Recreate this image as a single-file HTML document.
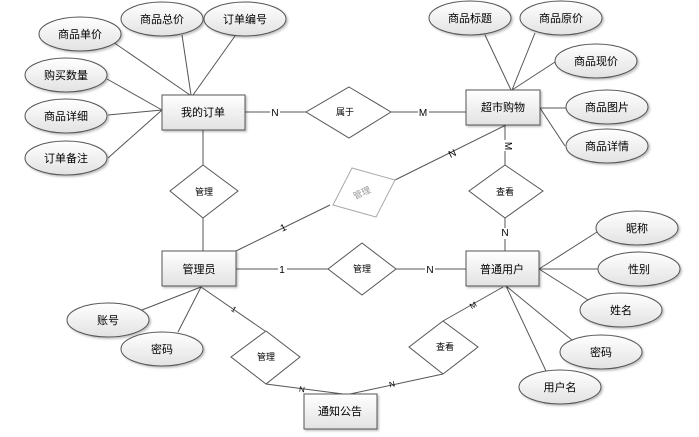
<!DOCTYPE html>
<html><head><meta charset="utf-8"><style>
html,body{margin:0;padding:0;background:#fff;}
svg{display:block;font-family:"Liberation Sans","Noto Sans CJK SC",sans-serif;}
</style></head><body>
<svg width="699" height="437" viewBox="0 0 699 437" xmlns="http://www.w3.org/2000/svg">
<defs>
<linearGradient id="g" x1="0" y1="0" x2="0" y2="1"><stop offset="0" stop-color="#ffffff"/><stop offset="1" stop-color="#e2e2e2"/></linearGradient>
<filter id="s" x="-20%" y="-20%" width="150%" height="150%"><feDropShadow dx="1.5" dy="1.5" stdDeviation="1" flood-color="#000" flood-opacity="0.25"/></filter>
</defs>
<g stroke="#555" stroke-width="1" fill="none">
<line x1="113" y1="42" x2="190" y2="95"/>
<line x1="182" y1="35" x2="191" y2="95"/>
<line x1="235" y1="36" x2="193" y2="95"/>
<line x1="107" y1="79" x2="162" y2="110"/>
<line x1="108" y1="115" x2="162" y2="110"/>
<line x1="108" y1="158" x2="162" y2="110"/>
<line x1="245" y1="112" x2="306" y2="112"/>
<line x1="391" y1="112" x2="466" y2="112"/>
<line x1="203" y1="130" x2="203" y2="165"/>
<line x1="203" y1="218" x2="203" y2="251"/>
<line x1="485" y1="35" x2="511" y2="90"/>
<line x1="535" y1="33" x2="512" y2="90"/>
<line x1="555" y1="62" x2="512" y2="90"/>
<line x1="540" y1="108" x2="566" y2="108"/>
<line x1="540" y1="108" x2="565" y2="146"/>
<line x1="505" y1="125" x2="505" y2="165"/>
<line x1="505" y1="218" x2="505" y2="251"/>
<line x1="506" y1="125" x2="395" y2="180"/>
<line x1="330" y1="205" x2="236" y2="251"/>
<line x1="236" y1="269" x2="328" y2="269"/>
<line x1="396" y1="269" x2="466" y2="269"/>
<line x1="539" y1="269" x2="597" y2="232"/>
<line x1="539" y1="269" x2="599" y2="269"/>
<line x1="539" y1="269" x2="588" y2="300"/>
<line x1="506" y1="286" x2="572" y2="340"/>
<line x1="506" y1="286" x2="546" y2="371"/>
<line x1="503" y1="287" x2="443" y2="321"/>
<line x1="443" y1="374" x2="350" y2="394"/>
<line x1="201" y1="287" x2="142" y2="310"/>
<line x1="201" y1="287" x2="178" y2="332"/>
<line x1="201" y1="287" x2="265" y2="331"/>
<line x1="266" y1="384" x2="343" y2="394"/>
</g>
<g fill="url(#g)" stroke="#555" filter="url(#s)">
<ellipse cx="80" cy="34" rx="41" ry="17"/>
<ellipse cx="162" cy="19" rx="41" ry="17"/>
<ellipse cx="245" cy="19" rx="41" ry="17"/>
<ellipse cx="66" cy="75" rx="41" ry="17"/>
<ellipse cx="66" cy="116" rx="41" ry="17"/>
<ellipse cx="66" cy="158" rx="41" ry="17"/>
<ellipse cx="470" cy="18" rx="41" ry="17"/>
<ellipse cx="561" cy="18" rx="41" ry="17"/>
<ellipse cx="596" cy="61" rx="41" ry="17"/>
<ellipse cx="607" cy="107" rx="41" ry="17"/>
<ellipse cx="607" cy="146" rx="41" ry="17"/>
<ellipse cx="637" cy="228" rx="41" ry="17"/>
<ellipse cx="639" cy="269" rx="41" ry="17"/>
<ellipse cx="621" cy="310" rx="41" ry="17"/>
<ellipse cx="601" cy="352" rx="41" ry="17"/>
<ellipse cx="560" cy="387" rx="41" ry="17"/>
<ellipse cx="108" cy="320" rx="41" ry="17"/>
<ellipse cx="162" cy="349" rx="41" ry="17"/>
<rect x="162" y="95" width="83" height="35"/>
<rect x="466" y="90" width="74" height="35"/>
<rect x="162" y="251" width="74" height="35"/>
<rect x="466" y="251" width="73" height="35"/>
<rect x="304" y="394" width="73" height="35"/>
</g>
<g fill="#fff" stroke="#555">
<polygon points="349,87 391,112 349,138 306,112"/>
<polygon points="203,165 238,191 203,218 170,191"/>
<polygon points="505,165 543,191 505,218 469,191"/>
<polygon points="362,243 396,269 362,295 328,269"/>
<polygon points="443,321 478,347 443,374 409,347"/>
<polygon points="266,331 300,357 266,384 231,357"/>
<polygon points="333,183 394,178 395,182 393,185" stroke="none"/>
</g>
<polygon points="333,205 352,168 395,180 376,217" fill="#fff" stroke="#aaa"/>
<g font-size="11" fill="#000" text-anchor="middle">
<text x="80" y="38">商品单价</text>
<text x="162" y="23">商品总价</text>
<text x="245" y="23">订单编号</text>
<text x="66" y="79">购买数量</text>
<text x="66" y="120">商品详细</text>
<text x="66" y="162">订单备注</text>
<text x="470" y="22">商品标题</text>
<text x="561" y="22">商品原价</text>
<text x="596" y="65">商品现价</text>
<text x="607" y="111">商品图片</text>
<text x="607" y="150">商品详情</text>
<text x="637" y="232">昵称</text>
<text x="639" y="273">性别</text>
<text x="621" y="314">姓名</text>
<text x="601" y="356">密码</text>
<text x="560" y="391">用户名</text>
<text x="108" y="324">账号</text>
<text x="162" y="353">密码</text>
<text x="203" y="116">我的订单</text>
<text x="503" y="111">超市购物</text>
<text x="199" y="273">管理员</text>
<text x="502" y="273">普通用户</text>
<text x="340" y="415">通知公告</text>
</g>
<g font-size="9" fill="#000" text-anchor="middle">
<text x="345" y="115">属于</text>
<text x="204" y="195">管理</text>
<text x="505" y="195">查看</text>
<text x="362" y="272">管理</text>
<text x="445" y="350">查看</text>
<text x="266" y="360">管理</text>
<text x="362" y="196" fill="#999" transform="rotate(-25 362 193)">管理</text>
</g>
<g font-size="10" fill="#000" text-anchor="middle">
<text x="275" y="116" fill="#fff" stroke="none"> </text>
<rect x="270" y="106" width="10" height="11" fill="#fff"/><text x="275" y="116">N</text>
<rect x="418" y="106" width="11" height="11" fill="#fff"/><text x="423" y="116">M</text>
<rect x="500" y="140" width="10" height="11" fill="#fff"/><text x="505" y="146" transform="rotate(90 505 146)">M</text>
<rect x="500" y="228" width="10" height="11" fill="#fff"/><text x="505" y="235" transform="rotate(180 505 232)">N</text>
<text x="452" y="157" transform="rotate(-26 452 153)">N</text>
<text x="283" y="231" transform="rotate(-26 283 227)">1</text>
<rect x="278" y="263" width="9" height="11" fill="#fff"/><text x="282" y="273">1</text>
<rect x="425" y="263" width="10" height="11" fill="#fff"/><text x="430" y="273">N</text>
<text x="473" y="308" font-size="8" transform="rotate(-30 473 305)">M</text>
<text x="392" y="387" font-size="8" transform="rotate(-12 392 384)">N</text>
<text x="234" y="312" font-size="8" transform="rotate(34 234 309)">1</text>
<text x="302" y="392" font-size="8" transform="rotate(7 302 389)">N</text>
</g>
</svg>
</body></html>
